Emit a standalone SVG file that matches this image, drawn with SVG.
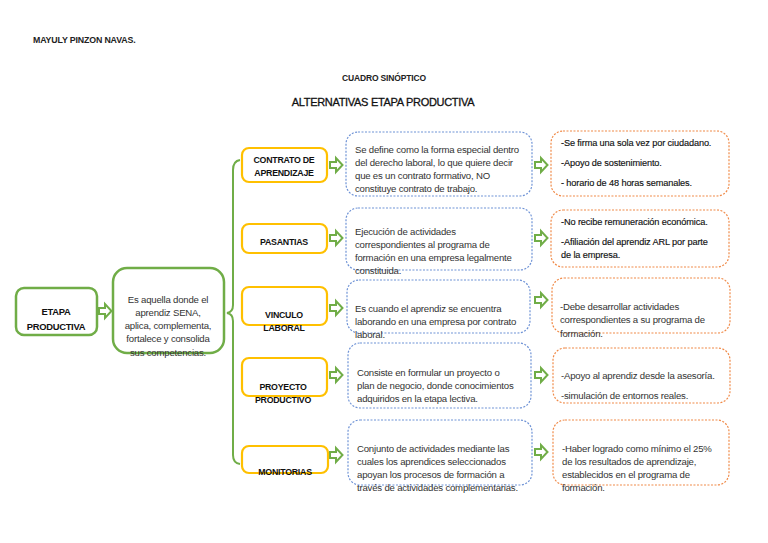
<svg xmlns="http://www.w3.org/2000/svg" width="768" height="543" viewBox="0 0 768 543">
<style>
  text { font-family: "Liberation Sans", Arial, sans-serif; }
  .t { font-size: 9.6px; letter-spacing: -0.2px; fill: #333; }
  .tb { font-size: 9.2px; letter-spacing: -0.12px; fill: #111; stroke: #111; stroke-width: 0.15; }
  .lab { font-size: 8.8px; letter-spacing: -0.25px; font-weight: bold; fill: #111; text-anchor: middle; }
  .big { font-size: 9.4px; letter-spacing: -0.3px; }
  .green { fill: #fff; stroke: #70ad47; stroke-width: 2.5; }
  .yellow { fill: #fff; stroke: #ffc000; stroke-width: 2.2; }
  .blue { fill: #fff; stroke: #6f93d6; stroke-width: 1.2; stroke-dasharray: 2 1.5; }
  .orange { fill: #fff; stroke: #f08a48; stroke-width: 1.2; stroke-dasharray: 2 1.5; }
  .arr { fill: #fff; stroke: #70ad47; stroke-width: 2; stroke-linejoin: miter; }
  .brace { fill: none; stroke: #70ad47; stroke-width: 2; }
</style>
<defs>
  <path id="arrow" class="arr" d="M0,-3 H6 V-7 L12.5,0 L6,7 V3 H0 Z"/>
</defs>
<rect x="0" y="0" width="768" height="543" fill="#fff"/>

<g id="titles">
  <text x="33" y="43" font-size="8.8" letter-spacing="-0.15" font-weight="bold" fill="#222">MAYULY PINZON NAVAS.</text>
  <text x="384" y="81" font-size="8.5" letter-spacing="-0.15" font-weight="bold" fill="#222" text-anchor="middle">CUADRO SINÓPTICO</text>
  <text x="383" y="106" font-size="11" letter-spacing="-0.3" fill="#111" text-anchor="middle" stroke="#111" stroke-width="0.3">ALTERNATIVAS ETAPA PRODUCTIVA</text>
</g>

<g id="connectors">
  <use href="#arrow" x="99" y="311"/>
  <path class="brace" d="M240,160 Q233,161 233,170 V305 Q233,312 227,313 Q233,314 233,321 V455 Q233,463 240,464"/>
  <use href="#arrow" x="330" y="165"/>
  <use href="#arrow" x="330" y="238"/>
  <use href="#arrow" x="330" y="308"/>
  <use href="#arrow" x="330" y="375"/>
  <use href="#arrow" x="330" y="455"/>
  <use href="#arrow" x="535" y="165"/>
  <use href="#arrow" x="535" y="238"/>
  <use href="#arrow" x="535" y="300"/>
  <use href="#arrow" x="535" y="375"/>
  <use href="#arrow" x="535" y="452"/>
</g>

<g id="etapa-productiva">
  <rect class="green" x="16" y="288" width="81" height="47" rx="8"/>
  <text class="lab big" x="56" y="315">ETAPA</text>
  <text class="lab big" x="56" y="330">PRODUCTIVA</text>
</g>

<g id="definicion">
  <rect class="green" x="113" y="268" width="111" height="85" rx="14"/>
  <text class="t" x="168" y="303" text-anchor="middle">Es aquella donde el</text>
  <text class="t" x="168" y="316" text-anchor="middle">aprendiz SENA,</text>
  <text class="t" x="168" y="329" text-anchor="middle">aplica, complementa,</text>
  <text class="t" x="168" y="342" text-anchor="middle">fortalece y consolida</text>
  <text class="t" x="168" y="356" text-anchor="middle">sus competencias.</text>
</g>

<g id="contrato">
  <rect class="yellow" x="242" y="148" width="85" height="34" rx="7"/>
  <text class="lab" x="284" y="163">CONTRATO DE</text>
  <text class="lab" x="284" y="176">APRENDIZAJE</text>
</g>
<g id="pasantias">
  <rect class="yellow" x="242" y="224" width="85" height="29" rx="7"/>
  <text class="lab" x="284" y="245">PASANTIAS</text>
</g>
<g id="vinculo">
  <rect class="yellow" x="242" y="287" width="85" height="38" rx="7"/>
  <text class="lab" x="284" y="318">VINCULO</text>
  <text class="lab" x="284" y="331">LABORAL</text>
</g>
<g id="proyecto">
  <rect class="yellow" x="242" y="358" width="85" height="38" rx="7"/>
  <text class="lab" x="283" y="390">PROYECTO</text>
  <text class="lab" x="283" y="403">PRODUCTIVO</text>
</g>
<g id="monitorias">
  <rect class="yellow" x="242" y="446" width="86" height="27" rx="7"/>
  <text class="lab" x="285" y="475">MONITORIAS</text>
</g>

<g id="desc-contrato">
  <rect class="blue" x="346" y="132" width="186" height="64" rx="12"/>
  <text class="t" x="355" y="153">Se define como la forma especial dentro</text>
  <text class="t" x="355" y="166">del derecho laboral, lo que quiere decir</text>
  <text class="t" x="355" y="179">que es un contrato formativo, NO</text>
  <text class="t" x="355" y="192">constituye contrato de trabajo.</text>
</g>
<g id="desc-pasantias">
  <rect class="blue" x="346" y="208" width="186" height="62" rx="12"/>
  <text class="t" x="355" y="235">Ejecución de actividades</text>
  <text class="t" x="355" y="248">correspondientes al programa de</text>
  <text class="t" x="355" y="261">formación en una empresa legalmente</text>
  <text class="t" x="355" y="274">constituida.</text>
</g>
<g id="desc-vinculo">
  <rect class="blue" x="347" y="280" width="183" height="53" rx="12"/>
  <text class="t" x="355" y="312">Es cuando el aprendiz se encuentra</text>
  <text class="t" x="355" y="325">laborando en una empresa por contrato</text>
  <text class="t" x="355" y="338">laboral.</text>
</g>
<g id="desc-proyecto">
  <rect class="blue" x="348" y="343" width="183" height="65" rx="12"/>
  <text class="t" x="357" y="376">Consiste en formular un proyecto o</text>
  <text class="t" x="357" y="389">plan de negocio, donde conocimientos</text>
  <text class="t" x="357" y="402">adquiridos en la etapa lectiva.</text>
</g>
<g id="desc-monitorias">
  <rect class="blue" x="348" y="420" width="184" height="65" rx="12"/>
  <text class="t" x="357" y="452">Conjunto de actividades mediante las</text>
  <text class="t" x="357" y="465">cuales los aprendices seleccionados</text>
  <text class="t" x="357" y="478">apoyan los procesos de formación a</text>
  <text class="t" x="357" y="491">través de actividades complementarias.</text>
</g>

<g id="car-contrato">
  <rect class="orange" x="551" y="131" width="178" height="65" rx="12"/>
  <text class="tb" x="561" y="146">-Se firma una sola vez por ciudadano.</text>
  <text class="tb" x="561" y="166">-Apoyo de sostenimiento.</text>
  <text class="tb" x="561" y="186">- horario de 48 horas semanales.</text>
</g>
<g id="car-pasantias">
  <rect class="orange" x="551" y="210" width="178" height="57" rx="12"/>
  <text class="tb" x="561" y="225">-No recibe remuneración económica.</text>
  <text class="tb" x="561" y="245">-Afiliación del aprendiz ARL por parte</text>
  <text class="tb" x="561" y="258">de la empresa.</text>
</g>
<g id="car-vinculo">
  <rect class="orange" x="552" y="278" width="178" height="55" rx="12"/>
  <text class="t" x="560" y="310">-Debe desarrollar actividades</text>
  <text class="t" x="560" y="323">correspondientes a su programa de</text>
  <text class="t" x="560" y="337">formación.</text>
</g>
<g id="car-proyecto">
  <rect class="orange" x="553" y="348" width="177" height="55" rx="12"/>
  <text class="t" x="561" y="379">-Apoyo al aprendiz desde la asesoría.</text>
  <text class="t" x="561" y="399">-simulación de entornos reales.</text>
</g>
<g id="car-monitorias">
  <rect class="orange" x="553" y="420" width="176" height="65" rx="12"/>
  <text class="t" x="562" y="452">-Haber logrado como mínimo el 25%</text>
  <text class="t" x="562" y="465">de los resultados de aprendizaje,</text>
  <text class="t" x="562" y="478">establecidos en el programa de</text>
  <text class="t" x="562" y="491">formación.</text>
</g>
</svg>
